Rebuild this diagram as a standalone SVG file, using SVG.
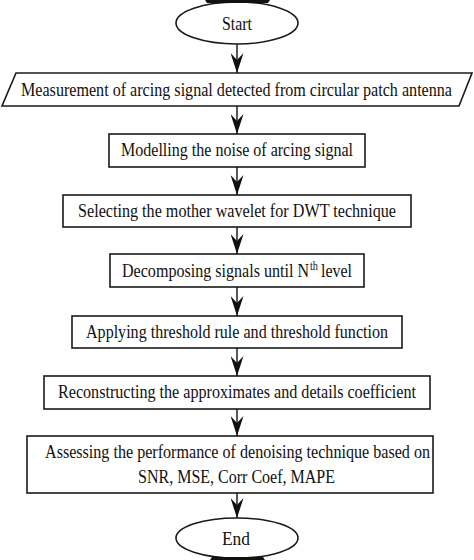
<svg xmlns="http://www.w3.org/2000/svg" width="474" height="560" viewBox="0 0 474 560">
<defs>
<marker id="ah" markerUnits="userSpaceOnUse" markerWidth="20" markerHeight="13" refX="20" refY="6.5" orient="auto" viewBox="0 0 20 13">
<path d="M0,0 L20,6.5 L0,13 L7,6.5 Z" fill="#111"/>
</marker>
<style>
.shape{fill:#fff;stroke:#1a1a1a;stroke-width:1.6}
.lbl{font-family:"Liberation Serif","Times New Roman",serif;font-size:19px;fill:#111;text-anchor:middle}
.lbs{font-family:"Liberation Serif","Times New Roman",serif;font-size:19px;fill:#111;text-anchor:start}
.conn{stroke:#111;stroke-width:1.4;fill:none}
</style>
</defs>
<rect width="474" height="560" fill="#fff"/>
<g id="connectors">
<line class="conn" x1="237" y1="44" x2="237" y2="73" marker-end="url(#ah)"/>
<line class="conn" x1="237" y1="106" x2="237" y2="134" marker-end="url(#ah)"/>
<line class="conn" x1="237" y1="167" x2="237" y2="195" marker-end="url(#ah)"/>
<line class="conn" x1="237" y1="227" x2="237" y2="254" marker-end="url(#ah)"/>
<line class="conn" x1="237" y1="287" x2="237" y2="316" marker-end="url(#ah)"/>
<line class="conn" x1="237" y1="348" x2="237" y2="376" marker-end="url(#ah)"/>
<line class="conn" x1="237" y1="409" x2="237" y2="436" marker-end="url(#ah)"/>
<line class="conn" x1="237" y1="493" x2="237" y2="518" marker-end="url(#ah)"/>
</g>
<g id="start">
<ellipse class="shape" cx="237" cy="23" rx="61" ry="21"/>
<path d="M205,0 L270,0 L268,3 L207,3 Z" fill="#111"/>
<text class="lbl" x="237" y="30" textLength="30" lengthAdjust="spacingAndGlyphs">Start</text>
</g>
<g id="measure">
<polygon class="shape" points="16,73 472,73 459,106 2,106"/>
<text class="lbl" x="236.5" y="96" textLength="431" lengthAdjust="spacingAndGlyphs">Measurement of arcing signal detected from circular patch antenna</text>
</g>
<g id="model">
<rect class="shape" x="109" y="134" width="256" height="33"/>
<text class="lbl" x="237" y="156" textLength="232" lengthAdjust="spacingAndGlyphs">Modelling the noise of arcing signal</text>
</g>
<g id="select">
<rect class="shape" x="63" y="195" width="348" height="32"/>
<text class="lbl" x="237" y="217" textLength="318" lengthAdjust="spacingAndGlyphs">Selecting the mother wavelet for DWT technique</text>
</g>
<g id="decompose">
<rect class="shape" x="110" y="254" width="254" height="33"/>
<text class="lbs" x="122" y="277" textLength="187" lengthAdjust="spacingAndGlyphs">Decomposing signals until N</text>
<text class="lbs" x="310" y="270" font-size="11.5" style="font-size:11.5px" textLength="8" lengthAdjust="spacingAndGlyphs">th</text>
<text class="lbs" x="321" y="277" textLength="31" lengthAdjust="spacingAndGlyphs">level</text>
</g>
<g id="threshold">
<rect class="shape" x="72" y="316" width="330" height="32"/>
<text class="lbl" x="237" y="338" textLength="302" lengthAdjust="spacingAndGlyphs">Applying threshold rule and threshold function</text>
</g>
<g id="reconstruct">
<rect class="shape" x="44" y="376" width="386" height="33"/>
<text class="lbl" x="237" y="398" textLength="358" lengthAdjust="spacingAndGlyphs">Reconstructing the approximates and details coefficient</text>
</g>
<g id="assess">
<rect class="shape" x="27" y="436" width="406" height="57"/>
<text class="lbl" x="237.5" y="458" textLength="385" lengthAdjust="spacingAndGlyphs">Assessing the performance of denoising technique based on</text>
<text class="lbl" x="236.5" y="483" textLength="197" lengthAdjust="spacingAndGlyphs">SNR, MSE, Corr Coef, MAPE</text>
</g>
<g id="end">
<ellipse class="shape" cx="237" cy="538" rx="61" ry="20"/>
<path d="M210,560 L265,560 L263,557 L212,557 Z" fill="#111"/>
<text class="lbl" x="236" y="545" textLength="28" lengthAdjust="spacingAndGlyphs">End</text>
</g>
</svg>
